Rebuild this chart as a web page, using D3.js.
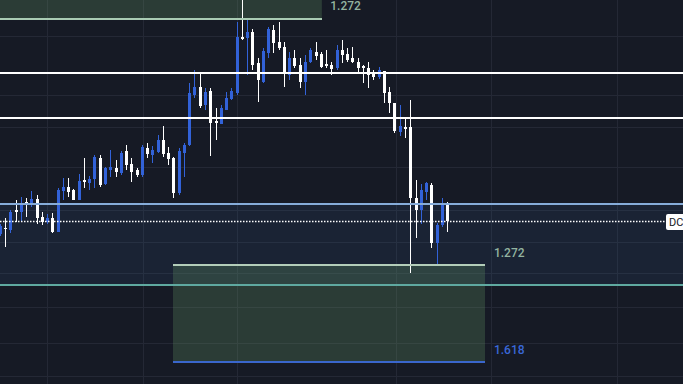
<!DOCTYPE html>
<html>
<head>
<meta charset="utf-8">
<script src="https://cdn.jsdelivr.net/npm/d3@7"></script>
<style>
html,body{margin:0;padding:0;background:#161a25;overflow:hidden;}
svg{display:block;}
</style>
</head>
<body>
<svg id="chart" width="683" height="384"></svg>
<script>
// ---- data (prices) ----
const candleIndex = d3.range(-1, 85);
const opens  = [4.50,4.56,4.54,4.74,4.72,4.82,4.79,4.85,4.67,4.62,4.66,4.52,4.93,4.97,4.94,4.84,5.04,5.01,5.05,5.26,5.00,5.14,5.16,5.11,5.33,5.20,5.14,5.09,5.36,5.29,5.32,5.44,5.31,5.26,4.91,5.31,5.39,5.89,5.97,5.79,5.93,5.63,5.60,5.74,5.85,5.91,6.47,6.46,6.52,6.21,6.02,6.31,6.54,6.42,6.37,6.09,6.26,6.19,6.02,6.22,6.32,6.30,6.20,6.19,6.16,6.34,6.30,6.26,6.22,6.18,6.16,6.11,6.07,6.13,5.92,5.81,5.52,5.57,5.57,4.86,4.74,4.92,4.99,4.41,4.59,4.81];
const highs  = [4.60,4.66,4.74,4.84,4.87,4.86,4.93,4.89,4.72,4.70,4.71,4.96,5.06,5.06,4.95,5.10,5.26,5.08,5.29,5.29,5.17,5.34,5.24,5.33,5.39,5.26,5.16,5.39,5.41,5.38,5.49,5.58,5.37,5.27,5.36,5.41,6.01,6.14,6.11,5.96,5.96,5.76,5.79,5.92,5.96,6.62,6.86,6.66,6.55,6.26,6.36,6.57,6.59,6.62,6.42,6.32,6.34,6.26,6.29,6.36,6.42,6.32,6.34,6.22,6.39,6.44,6.36,6.37,6.26,6.19,6.22,6.14,6.17,6.13,5.97,5.81,5.79,5.67,5.84,5.04,5.00,5.02,5.01,4.61,4.86,4.82];
const lows   = [4.48,4.37,4.51,4.62,4.62,4.67,4.77,4.60,4.59,4.60,4.51,4.52,4.84,4.87,4.84,4.84,4.96,4.94,4.96,4.97,4.99,5.07,5.07,5.09,5.14,5.02,5.07,5.07,5.26,5.21,5.31,5.27,5.19,4.86,4.89,5.07,5.38,5.86,5.76,5.74,5.28,5.44,5.60,5.74,5.84,5.89,6.44,6.09,6.14,5.82,6.01,6.26,6.31,6.34,5.97,6.04,6.16,5.96,5.89,6.21,6.24,6.16,6.16,6.09,6.14,6.21,6.22,6.21,6.11,6.01,5.96,6.04,6.05,5.81,5.71,5.51,5.48,5.46,4.11,4.46,4.60,4.84,4.36,4.19,4.57,4.52];
const closes = [4.58,4.55,4.72,4.72,4.81,4.80,4.85,4.66,4.62,4.66,4.52,4.94,4.97,4.92,4.84,5.03,5.02,5.05,5.27,4.99,5.16,5.17,5.12,5.31,5.19,5.12,5.09,5.37,5.30,5.34,5.44,5.30,5.25,4.91,5.33,5.39,5.91,5.97,5.78,5.92,5.61,5.61,5.76,5.86,5.93,6.47,6.45,6.52,6.19,6.04,6.33,6.55,6.41,6.36,6.11,6.26,6.18,6.02,6.22,6.34,6.28,6.17,6.18,6.15,6.34,6.29,6.24,6.22,6.16,6.16,6.09,6.07,6.14,5.91,5.81,5.53,5.58,5.55,4.86,4.74,4.94,5.01,4.41,4.59,4.81,4.63];

// horizontal price grid and vertical time grid (candle index units)
const gridPrices = [6.48,5.89,5.57,5.17,4.74,4.42,4.11,3.77,3.41,3.08];
const gridIndex  = [8,26.2,44,74.3,92.3,116.3];

// drawings
const upperBox   = {i0:-3, i1:60.2, top:7.10, bottom:6.65, label:"1.272", labelIndex:61.8};
const lowerBox   = {i0:31.9, i1:91.2, top:4.19, bottom:3.22};
const lowerLabels = [{text:"1.272", price:4.31, color:"#93b3a0"},{text:"1.618", price:3.34, color:"#3a68d8"}];
const labelIndex2 = 92.9;
const whiteLevels = [6.11, 5.66];
const bandTop = 4.80, bandBottom = 3.99;
const lastPrice = 4.63;
const symbolTag = "DC";

// ---- scales ----
const W = 683, H = 384;
const x = d3.scaleLinear().domain([0, 76]).range([5, 405]);
const y = d3.scaleLinear().domain([3.00, 6.84]).range([H, 0]);
const py = v => Math.round(y(v));

const svg = d3.select("#chart");
svg.append("rect").attr("width", W).attr("height", H).attr("fill", "#161a25");

// grid
const g = svg.append("g").attr("shape-rendering", "crispEdges");
g.selectAll("line.h").data(gridPrices).join("line")
  .attr("x1", 0).attr("x2", W)
  .attr("y1", d => py(d) + 0.5).attr("y2", d => py(d) + 0.5)
  .attr("stroke", "#242835").attr("stroke-width", 1);
g.selectAll("line.v").data(gridIndex).join("line")
  .attr("y1", 0).attr("y2", H)
  .attr("x1", d => Math.round(x(d)) + 0.5).attr("x2", d => Math.round(x(d)) + 0.5)
  .attr("stroke", "#242835").attr("stroke-width", 1);

// band between the two horizontal levels
svg.append("rect")
  .attr("x", 0).attr("width", W)
  .attr("y", py(bandTop)).attr("height", py(bandBottom) - py(bandTop))
  .attr("fill", "rgba(60,110,165,0.12)");

// boxes
const boxFill = "rgba(100,150,100,0.28)";
svg.append("rect")
  .attr("x", x(upperBox.i0)).attr("width", x(upperBox.i1) - x(upperBox.i0))
  .attr("y", y(upperBox.top)).attr("height", py(upperBox.bottom) - y(upperBox.top))
  .attr("fill", boxFill);
svg.append("rect")
  .attr("x", Math.round(x(lowerBox.i0))).attr("width", Math.round(x(lowerBox.i1) - x(lowerBox.i0)))
  .attr("y", py(lowerBox.top)).attr("height", py(lowerBox.bottom) - py(lowerBox.top))
  .attr("fill", boxFill);

// candles
const candles = candleIndex.map((i, k) => ({i, o: opens[k], h: highs[k], l: lows[k], c: closes[k]}));
const cg = svg.append("g").attr("shape-rendering", "crispEdges");
const up = "#3262d8", down = "#ffffff";
cg.selectAll("line.wick").data(candles).join("line")
  .attr("x1", d => Math.round(x(d.i)) + 0.5).attr("x2", d => Math.round(x(d.i)) + 0.5)
  .attr("y1", d => y(d.h)).attr("y2", d => y(d.l))
  .attr("stroke", d => d.c >= d.o ? up : down).attr("stroke-width", 1);
cg.selectAll("rect.body").data(candles).join("rect")
  .attr("x", d => Math.round(x(d.i)) - 1)
  .attr("width", 3)
  .attr("y", d => y(Math.max(d.o, d.c)))
  .attr("height", d => Math.max(1, Math.abs(y(d.o) - y(d.c))))
  .attr("fill", d => d.c >= d.o ? up : down);

// box borders
const lg = svg.append("g").attr("shape-rendering", "crispEdges");
lg.append("line")
  .attr("x1", x(upperBox.i0)).attr("x2", x(upperBox.i1))
  .attr("y1", py(upperBox.bottom)).attr("y2", py(upperBox.bottom))
  .attr("stroke", "#a9cbb3").attr("stroke-width", 2);
lg.append("line")
  .attr("x1", x(lowerBox.i0)).attr("x2", x(lowerBox.i1))
  .attr("y1", py(lowerBox.top)).attr("y2", py(lowerBox.top))
  .attr("stroke", "#b3cdb9").attr("stroke-width", 2);
lg.append("line")
  .attr("x1", x(lowerBox.i0)).attr("x2", x(lowerBox.i1))
  .attr("y1", py(lowerBox.bottom)).attr("y2", py(lowerBox.bottom))
  .attr("stroke", "#3a66cc").attr("stroke-width", 2);

// horizontal levels
lg.selectAll("line.wl").data(whiteLevels).join("line")
  .attr("x1", 0).attr("x2", W)
  .attr("y1", d => py(d)).attr("y2", d => py(d))
  .attr("stroke", "#ffffff").attr("stroke-width", 2);
lg.append("line").attr("x1", 0).attr("x2", W)
  .attr("y1", py(bandTop)).attr("y2", py(bandTop))
  .attr("stroke", "#86acd9").attr("stroke-width", 2);
lg.append("line").attr("x1", 0).attr("x2", W)
  .attr("y1", py(bandBottom)).attr("y2", py(bandBottom))
  .attr("stroke", "#5fa9a0").attr("stroke-width", 2);

// last price dotted line + tag
svg.append("line").attr("x1", 0).attr("x2", 666)
  .attr("y1", py(lastPrice) + 0.5).attr("y2", py(lastPrice) + 0.5)
  .attr("stroke", "#ffffff").attr("stroke-width", 1.5).attr("stroke-dasharray", "1.5,1.5");
svg.append("rect").attr("x", 666).attr("y", py(lastPrice) - 7).attr("width", 30).attr("height", 16)
  .attr("rx", 2).attr("fill", "#ffffff");
svg.append("text").attr("x", 669).attr("y", py(lastPrice) + 5)
  .attr("font-family", "Roboto, sans-serif").attr("font-size", 11)
  .attr("fill", "#131722").text(symbolTag);

// fib labels
svg.append("text").attr("x", x(upperBox.labelIndex)).attr("y", 10)
  .attr("font-family", "Roboto, sans-serif").attr("font-size", 12).attr("font-weight", 500)
  .attr("fill", "#93b3a0").text(upperBox.label);
svg.selectAll("text.fl").data(lowerLabels).join("text")
  .attr("x", x(labelIndex2)).attr("y", d => y(d.price) + 4)
  .attr("font-family", "Roboto, sans-serif").attr("font-size", 12).attr("font-weight", 500)
  .attr("fill", d => d.color).text(d => d.text);
</script>
</body>
</html>
